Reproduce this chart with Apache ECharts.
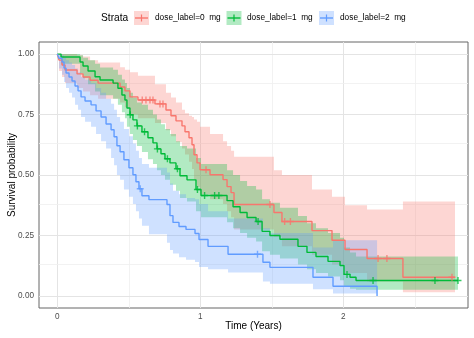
<!DOCTYPE html>
<html><head><meta charset="utf-8">
<script src="https://cdn.jsdelivr.net/npm/echarts@6/dist/echarts.min.js"></script>
<style>html,body{margin:0;padding:0;background:#fff}#c{width:474px;height:338px}</style>
</head><body><div id="c"></div>
<script>
// ---------- data ----------
const strata = ['dose_label=0  mg', 'dose_label=1  mg', 'dose_label=2  mg'];
const xTicks = [0, 1, 2];
const xMinor = [0.5, 1.5, 2.5];
const yTicks = [0, 0.25, 0.5, 0.75, 1];
const yMinor = [0.125, 0.375, 0.625, 0.875];

// dose 0 mg
const time0 = [0,0.012,0.033,0.054,0.138,0.180,0.229,0.285,0.439,0.473,0.508,0.564,0.683,0.760,0.795,0.830,0.872,0.893,0.921,0.942,0.956,0.977,0.998,1.068,1.159,1.187,1.215,1.236,1.515,1.571,1.781,1.921,2.012,2.166,2.417,2.781];
const surv0 = [1.0,0.975,0.955,0.934,0.918,0.905,0.892,0.880,0.864,0.848,0.823,0.810,0.794,0.769,0.745,0.724,0.703,0.679,0.654,0.625,0.584,0.550,0.522,0.501,0.481,0.452,0.427,0.378,0.345,0.308,0.270,0.230,0.192,0.155,0.077,0.077];
const upper0 = [1,1,1,1,0.995,0.99,0.975,0.965,0.946,0.935,0.925,0.91,0.875,0.84,0.82,0.80,0.77,0.755,0.745,0.74,0.73,0.72,0.70,0.67,0.64,0.62,0.60,0.575,0.52,0.50,0.44,0.41,0.375,0.357,0.39,0.39];
const lower0 = [1,0.93,0.905,0.88,0.86,0.845,0.83,0.815,0.80,0.78,0.75,0.735,0.715,0.685,0.66,0.635,0.61,0.585,0.555,0.525,0.48,0.45,0.42,0.40,0.38,0.35,0.325,0.275,0.245,0.205,0.17,0.13,0.095,0.06,0.015,0.015];
const censorTime0 = [0.594,0.620,0.648,0.669,0.718,0.739,1.040,1.487,1.590,1.630,2.243,2.305,2.760];
const censorSurv0 = [0.810,0.810,0.810,0.810,0.794,0.794,0.522,0.378,0.308,0.308,0.155,0.155,0.077];

// dose 1 mg
const time1 = [0,0.026,0.159,0.180,0.215,0.264,0.299,0.390,0.424,0.452,0.473,0.487,0.508,0.529,0.557,0.592,0.634,0.669,0.697,0.725,0.753,0.788,0.830,0.858,0.907,0.970,1.005,1.187,1.229,1.278,1.327,1.390,1.432,1.487,1.557,1.683,1.746,1.809,1.893,1.977,2.005,2.047,2.089,2.802];
const surv1 = [1.0,0.988,0.967,0.951,0.930,0.906,0.893,0.880,0.859,0.831,0.810,0.777,0.749,0.728,0.703,0.679,0.654,0.633,0.608,0.588,0.567,0.550,0.526,0.497,0.480,0.440,0.415,0.394,0.369,0.345,0.324,0.308,0.267,0.250,0.234,0.205,0.180,0.163,0.143,0.126,0.089,0.077,0.064,0.064];
const upper1 = [1,1,0.995,0.985,0.975,0.96,0.945,0.935,0.915,0.895,0.88,0.86,0.84,0.82,0.80,0.79,0.77,0.75,0.73,0.71,0.69,0.67,0.64,0.62,0.61,0.57,0.545,0.52,0.50,0.475,0.455,0.44,0.40,0.385,0.365,0.33,0.30,0.28,0.26,0.24,0.20,0.18,0.163,0.163];
const lower1 = [1,0.96,0.92,0.90,0.875,0.845,0.83,0.815,0.79,0.76,0.735,0.70,0.67,0.645,0.62,0.595,0.565,0.545,0.52,0.50,0.48,0.46,0.435,0.405,0.39,0.35,0.325,0.305,0.28,0.26,0.24,0.225,0.185,0.17,0.155,0.13,0.11,0.095,0.08,0.065,0.04,0.03,0.025,0.025];
const censorTime1 = [0.510,0.560,0.610,0.700,0.770,0.840,0.980,1.030,1.100,1.130,1.404,2.026,2.208,2.641,2.802];
const censorSurv1 = [0.749,0.703,0.679,0.608,0.567,0.526,0.440,0.415,0.415,0.415,0.308,0.089,0.064,0.064,0.064];

// dose 2 mg
const time2 = [0,0.012,0.033,0.047,0.061,0.082,0.103,0.124,0.145,0.166,0.194,0.236,0.271,0.306,0.341,0.376,0.397,0.417,0.439,0.466,0.501,0.529,0.550,0.571,0.592,0.641,0.767,0.788,0.809,0.851,0.900,0.963,0.991,1.054,1.194,1.438,1.487,1.788,1.928,2.236];
const surv2 = [1.0,0.983,0.967,0.942,0.922,0.905,0.889,0.868,0.848,0.823,0.806,0.790,0.765,0.740,0.711,0.687,0.658,0.621,0.596,0.563,0.530,0.501,0.472,0.443,0.414,0.398,0.378,0.332,0.304,0.287,0.275,0.258,0.233,0.205,0.172,0.139,0.118,0.077,0.040,0.0];
const upper2 = [1,1,0.995,0.985,0.975,0.965,0.955,0.94,0.925,0.905,0.895,0.88,0.86,0.84,0.815,0.795,0.77,0.74,0.72,0.69,0.66,0.63,0.60,0.57,0.545,0.53,0.51,0.465,0.435,0.42,0.405,0.40,0.38,0.35,0.32,0.28,0.26,0.20,0.23,0.23];
const lower2 = [1,0.94,0.915,0.885,0.86,0.84,0.82,0.79,0.77,0.74,0.72,0.70,0.67,0.64,0.61,0.57,0.54,0.50,0.48,0.44,0.41,0.38,0.35,0.32,0.29,0.255,0.22,0.19,0.175,0.16,0.15,0.14,0.12,0.11,0.097,0.06,0.05,0.028,0.01,0.01];
const censorTime2 = [0.580,1.400];
const censorSurv2 = [0.443,0.172];

// ---------- styling ----------
const lineColors = ['#F8766D', '#00BA38', '#619CFF'];
const bandColors = ['rgba(248,118,109,0.3)', 'rgba(0,186,56,0.3)', 'rgba(97,156,255,0.3)'];
const FONT = 'Liberation Sans, Arial, Helvetica, sans-serif';
const plus = 'path://M4,0h2v4h4v2h-4v4h-2v-4h-4v-2h4z';

const groups = [
  {t: time0, s: surv0, up: upper0, lo: lower0, ct: censorTime0, cs: censorSurv0},
  {t: time1, s: surv1, up: upper1, lo: lower1, ct: censorTime1, cs: censorSurv1},
  {t: time2, s: surv2, up: upper2, lo: lower2, ct: censorTime2, cs: censorSurv2}
];

const series = [];
// gridlines (drawn through the axes' scales)
const gridLines = [];
xTicks.forEach(v => gridLines.push({xAxis: v, lineStyle: {color: '#e4e4e4', width: 1, type: 'solid'}}));
xMinor.forEach(v => gridLines.push({xAxis: v, lineStyle: {color: '#efefef', width: 0.8, type: 'solid'}}));
yTicks.forEach(v => gridLines.push({yAxis: v, lineStyle: {color: '#e4e4e4', width: 1, type: 'solid'}}));
yMinor.forEach(v => gridLines.push({yAxis: v, lineStyle: {color: '#efefef', width: 0.8, type: 'solid'}}));
series.push({
  type: 'line', name: 'grid', data: [], silent: true, z: 1,
  markLine: {silent: true, symbol: 'none', label: {show: false}, animation: false, z: 1, data: gridLines}
});

// step-shaped confidence bands: one polygon per stratum
function bandRender(color) {
  return function (params, api) {
    if (params.dataIndexInside !== 0) return null;
    const n = params.dataInsideLength;
    const top = [], bot = [];
    for (let i = 0; i < n; i++) {
      const t = api.value(0, i), lo = api.value(1, i), up = api.value(2, i);
      const tNext = i < n - 1 ? api.value(0, i + 1) : t;
      top.push(api.coord([t, up]), api.coord([tNext, up]));
      bot.push(api.coord([t, lo]), api.coord([tNext, lo]));
    }
    const pts = top.concat(bot.reverse());
    return {type: 'polygon', shape: {points: pts}, style: {fill: color, stroke: null}, silent: true};
  };
}
groups.forEach((g, k) => {
  series.push({
    type: 'custom', name: strata[k] + ' band', coordinateSystem: 'cartesian2d', z: 2, silent: true,
    renderItem: bandRender(bandColors[k]),
    encode: {x: 0, y: [1, 2]},
    data: g.t.map((v, i) => [v, g.lo[i], g.up[i]])
  });
});
groups.forEach((g, k) => {
  series.push({
    type: 'line', name: strata[k], step: 'end', symbol: 'none', z: 3,
    lineStyle: {color: lineColors[k], width: 1.4},
    data: g.t.map((v, i) => [v, g.s[i]])
  });
});
groups.forEach((g, k) => {
  series.push({
    type: 'scatter', name: strata[k] + ' censor', symbol: plus, symbolSize: 7, z: 4,
    itemStyle: {color: lineColors[k]},
    data: g.ct.map((v, i) => [v, g.cs[i]])
  });
});

// legend drawn as graphic (ggplot-style keys)
const keyX = [134, 226.5, 319];
const labelX = [155, 247, 340];
const graphics = [{
  type: 'text', style: {text: 'Strata', x: 101, y: 18, fill: '#000', font: '10.2px ' + FONT, verticalAlign: 'middle', align: 'left'}
}];
strata.forEach((name, k) => {
  graphics.push({type: 'rect', shape: {x: keyX[k], y: 11, width: 15, height: 14}, style: {fill: bandColors[k]}});
  graphics.push({type: 'line', shape: {x1: keyX[k] + 1, y1: 18, x2: keyX[k] + 14, y2: 18}, style: {stroke: lineColors[k], lineWidth: 1.4}});
  graphics.push({type: 'line', shape: {x1: keyX[k] + 7.5, y1: 14.5, x2: keyX[k] + 7.5, y2: 21.5}, style: {stroke: lineColors[k], lineWidth: 1.2}});
  graphics.push({type: 'text', style: {text: name, x: labelX[k], y: 18, fill: '#000', font: '8.3px ' + FONT, verticalAlign: 'middle', align: 'left'}});
});

const option = {
  animation: false,
  backgroundColor: '#fff',
  grid: {left: 39, top: 42, width: 429, height: 266, show: true, borderColor: '#666', borderWidth: 1,
    backgroundColor: '#fff', outerBoundsMode: 'none', containLabel: false},
  xAxis: {
    type: 'value', min: -0.128, max: 2.872,
    splitLine: {show: false}, axisLine: {show: false},
    axisTick: {show: true, customValues: xTicks, length: 3, lineStyle: {color: '#333'}},
    axisLabel: {customValues: xTicks, color: '#4d4d4d', fontSize: 8.2, margin: 5, fontFamily: FONT},
    name: 'Time (Years)', nameLocation: 'middle', nameGap: 13, nameMoveOverlap: false,
    nameTextStyle: {fontSize: 10, color: '#000', fontFamily: FONT}
  },
  yAxis: {
    type: 'value', min: -0.05, max: 1.05,
    splitLine: {show: false}, axisLine: {show: false},
    axisTick: {show: true, customValues: yTicks, length: 3, lineStyle: {color: '#333'}},
    axisLabel: {customValues: yTicks, color: '#4d4d4d', fontSize: 8.2, margin: 5, fontFamily: FONT,
      formatter: v => v.toFixed(2)},
    name: 'Survival probability', nameLocation: 'middle', nameGap: 22, nameRotate: 90, nameMoveOverlap: false,
    nameTextStyle: {fontSize: 10, color: '#000', fontFamily: FONT}
  },
  graphic: graphics,
  series: series
};
const chart = echarts.init(document.getElementById('c'));
chart.setOption(option);
</script></body></html>
